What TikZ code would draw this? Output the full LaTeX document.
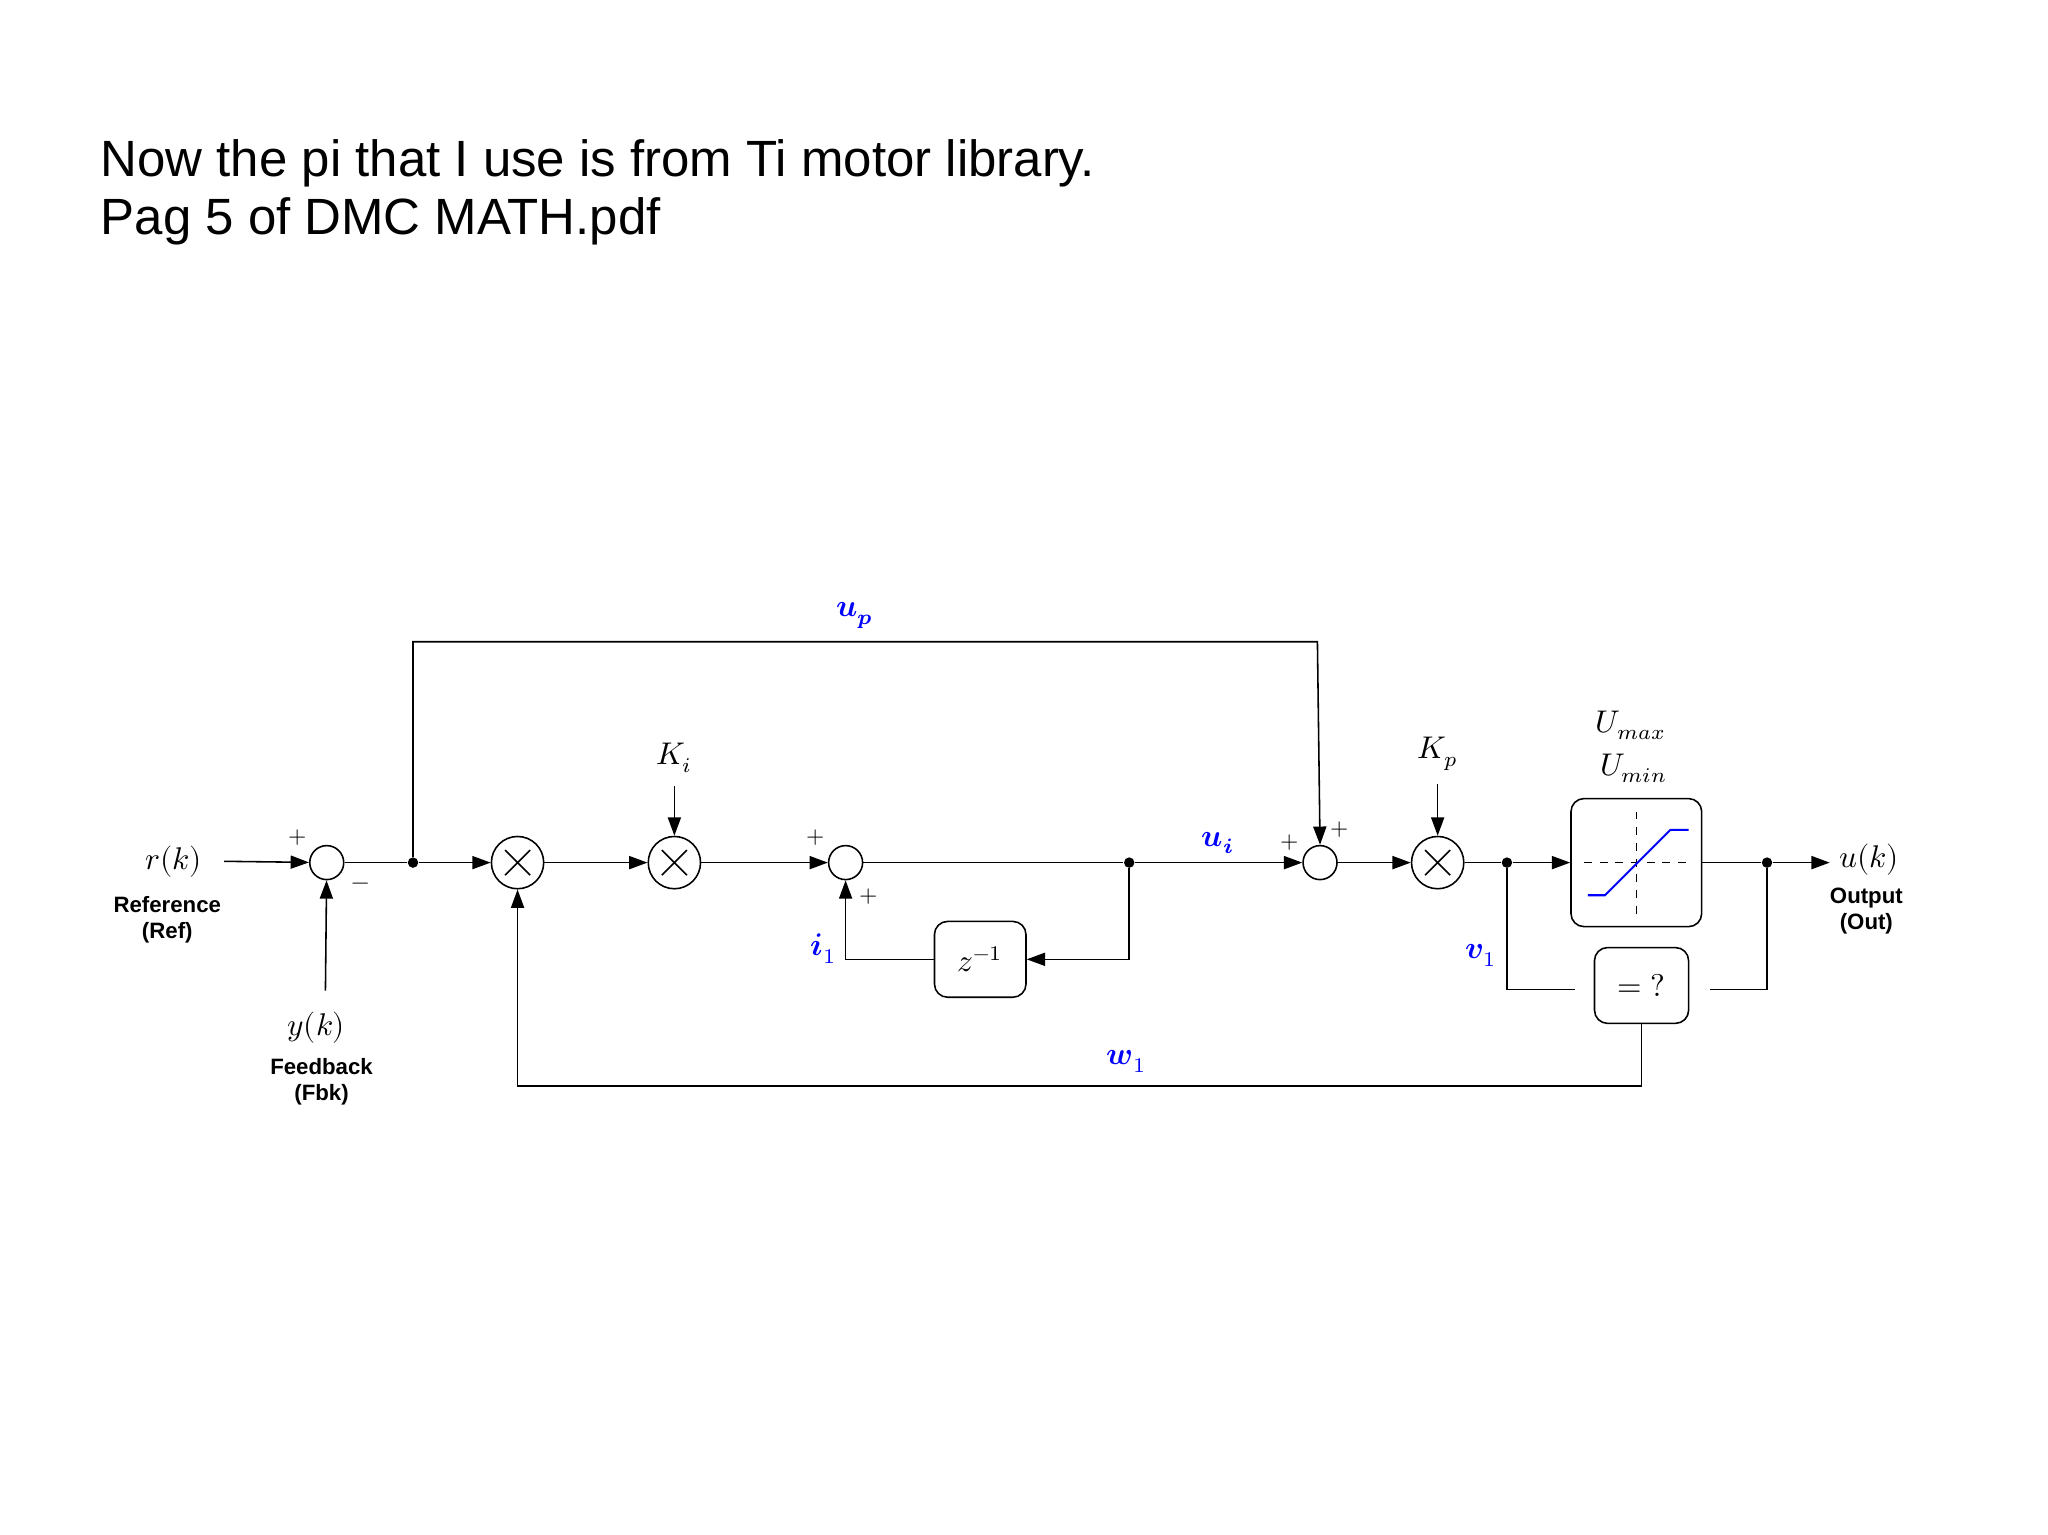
\documentclass[tikz,border=0pt]{standalone}
\usepackage{fontspec}
\setmainfont{Liberation Sans}
\usepackage{unicode-math}
\setmathfont{Latin Modern Math}
\usetikzlibrary{arrows.meta}
\begin{document}
\begin{tikzpicture}[x=0.5pt,y=-0.5pt,
 ln/.style={line width=0.6pt},
 ar/.style={ln,-{Triangle[length=7pt,width=5pt]}},
 sm/.style={circle,draw,ln,minimum size=13pt,inner sep=0pt},
 mul/.style={circle,draw,ln,minimum size=20pt,inner sep=0pt,path picture={\draw[ln] (path picture bounding box.south west)++(5.2pt,5.2pt) -- ++(9.6pt,9.6pt) (path picture bounding box.north west)++(5.2pt,-5.2pt) -- ++(9.6pt,-9.6pt);}},
 bx/.style={draw,ln,rounded corners=5pt,fill=white},
 dot/.style={circle,fill,inner sep=0pt,minimum size=4pt},
 m/.style={font=\fontsize{12}{14}\selectfont},
 sig/.style={font=\fontsize{12}{14}\selectfont\bfseries,text=blue},
 lb/.style={font=\fontsize{8.5}{10}\selectfont\bfseries,align=center},
 pm/.style={font=\fontsize{9}{10}\selectfont}]
\useasboundingbox (0,0) rectangle (1567,1174);
\node[anchor=west,align=left,font=\fontsize{19.5}{22}\selectfont] (title) at (70,147) {Now the pi that I use is from Ti motor library.\\Pag 5 of DMC MATH.pdf};
% nodes
\node[m] (r) at (133,659) {$r(k)$};
\node[lb] (ref) at (128,704) {Reference\\(Ref)};
\node[sm] (s1) at (250,660) {};
\node[pm] (p1) at (228,641) {$+$};
\node[pm] (m1) at (276,678) {$-$};
\node[m] (y) at (242,786) {$y(k)$};
\node[lb] (fbk) at (246,828) {Feedback\\(Fbk)};
\node[dot] (d1) at (316,660) {};
\node[mul] (x1) at (396,660) {};
\node[mul] (x2) at (516,660) {};
\node[m] (ki) at (516,580) {$K_i$};
\node[sm] (s2) at (647,660) {};
\node[pm] (p2) at (624,641) {$+$};
\node[pm] (p3) at (665,686) {$+$};
\node[dot] (d2) at (864,660) {};
\node[bx,minimum width=35pt,minimum height=29pt,font=\fontsize{12}{14}\selectfont] (z) at (750,734) {$z^{-1}$};
\node[sig] (i1) at (630,726) {$\symbfit{i_1}$};
\node[sig] (ui) at (932,645) {$\symbfit{u_i}$};
\node[sig] (up) at (654,471) {$\symbfit{u_p}$};
\node[sm] (s3) at (1010,660) {};
\node[pm] (p4) at (987,645) {$+$};
\node[pm] (p5) at (1025,635) {$+$};
\node[mul] (x3) at (1100,660) {};
\node[m] (kp) at (1100,577) {$K_p$};
\node[dot] (d3) at (1153,660) {};
\node[bx,minimum width=50pt,minimum height=49pt] (sat) at (1252,660) {};
\draw[ln,dashed] (1212,660) -- (1293,660) (1252,621) -- (1252,701);
\draw[blue,line width=0.8pt] (1215,685) -- (1228,685) -- (1278,635) -- (1292,635);
\node[m] (umax) at (1248,555) {$U_{max}$};
\node[m] (umin) at (1250,588) {$U_{min}$};
\node[dot] (d4) at (1352,660) {};
\coordinate (out) at (1400,660);
\node[m] (u) at (1430,658) {$u(k)$};
\node[lb] (outl) at (1428,697) {Output\\(Out)};
\node[bx,minimum width=36pt,minimum height=29pt,font=\fontsize{12}{14}\selectfont] (eq) at (1256,754) {$=?$};
\node[sig] (v1) at (1133,731) {$\symbfit{v_1}$};
\node[sig] (w1) at (862,812) {$\symbfit{w_1}$};
% connectors
\draw[ar] (r.east)++(10,0) -- (s1);
\draw[ar] (249,758) -- (s1);
\draw[ln] (s1) -- (d1);
\draw[ar] (d1) -- (x1);
\draw[ar] (x1) -- (x2);
\draw[ar] (ki.south)++(0,3) -- (x2);
\draw[ar] (x2) -- (s2);
\draw[ln] (s2) -- (d2);
\draw[ar] (d2) |- (z.east);
\draw[ar] (z.west) -| (s2.south);
\draw[ar] (d2) -- (s3);
\draw[ar] (d1) |- (1008,491) -- (s3.north);
\draw[ar] (s3) -- (x3);
\draw[ar] (kp.south)++(0,3) -- (x3);
\draw[ln] (x3) -- (d3);
\draw[ar] (d3) -- (sat);
\draw[ln] (sat) -- (d4);
\draw[ar] (d4) -- (out);
\draw[ln] (d3) |- (1205,757);
\draw[ln] (d4) |- (1308,757);
\draw[ar] (eq.south) |- (396,831) -- (x1.south);
\end{tikzpicture}
\end{document}
